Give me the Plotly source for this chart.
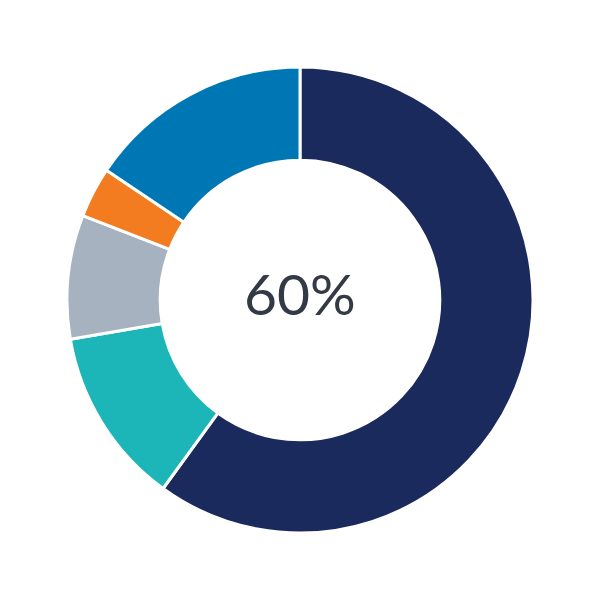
import plotly.graph_objects as go

labels = ['Navy', 'Teal', 'Gray', 'Orange', 'Blue']
values = [60, 12.3, 8.6, 3.5, 15.6]
colors = ['#1b2a5c', '#1cb5b8', '#a7b2c1', '#f37b20', '#0077b5']
center_label = '60%'

# page body has an 8px margin, so the figure is 584px and shifted
W = 584
lo, hi = (292 - 233) / W, (292 + 233) / W

fig = go.Figure()
fig.add_trace(go.Pie(
    labels=labels, values=values,
    hole=0.6,
    sort=False,
    direction='clockwise',
    rotation=0,
    marker=dict(colors=colors, line=dict(color='#ffffff', width=3)),
    textinfo='none',
    hoverinfo='label+percent',
    domain=dict(x=[lo, hi], y=[lo, hi])
))

fig.update_layout(
    width=W, height=W,
    paper_bgcolor='#ffffff',
    plot_bgcolor='#ffffff',
    margin=dict(l=0, r=0, t=0, b=0),
    showlegend=False,
    annotations=[dict(
        text=center_label, x=0.5, y=0.5, xref='paper', yref='paper', yshift=7,
        showarrow=False, font=dict(family='Lato', size=57, color='#343a45')
    )]
)

fig.write_html("out.html")
